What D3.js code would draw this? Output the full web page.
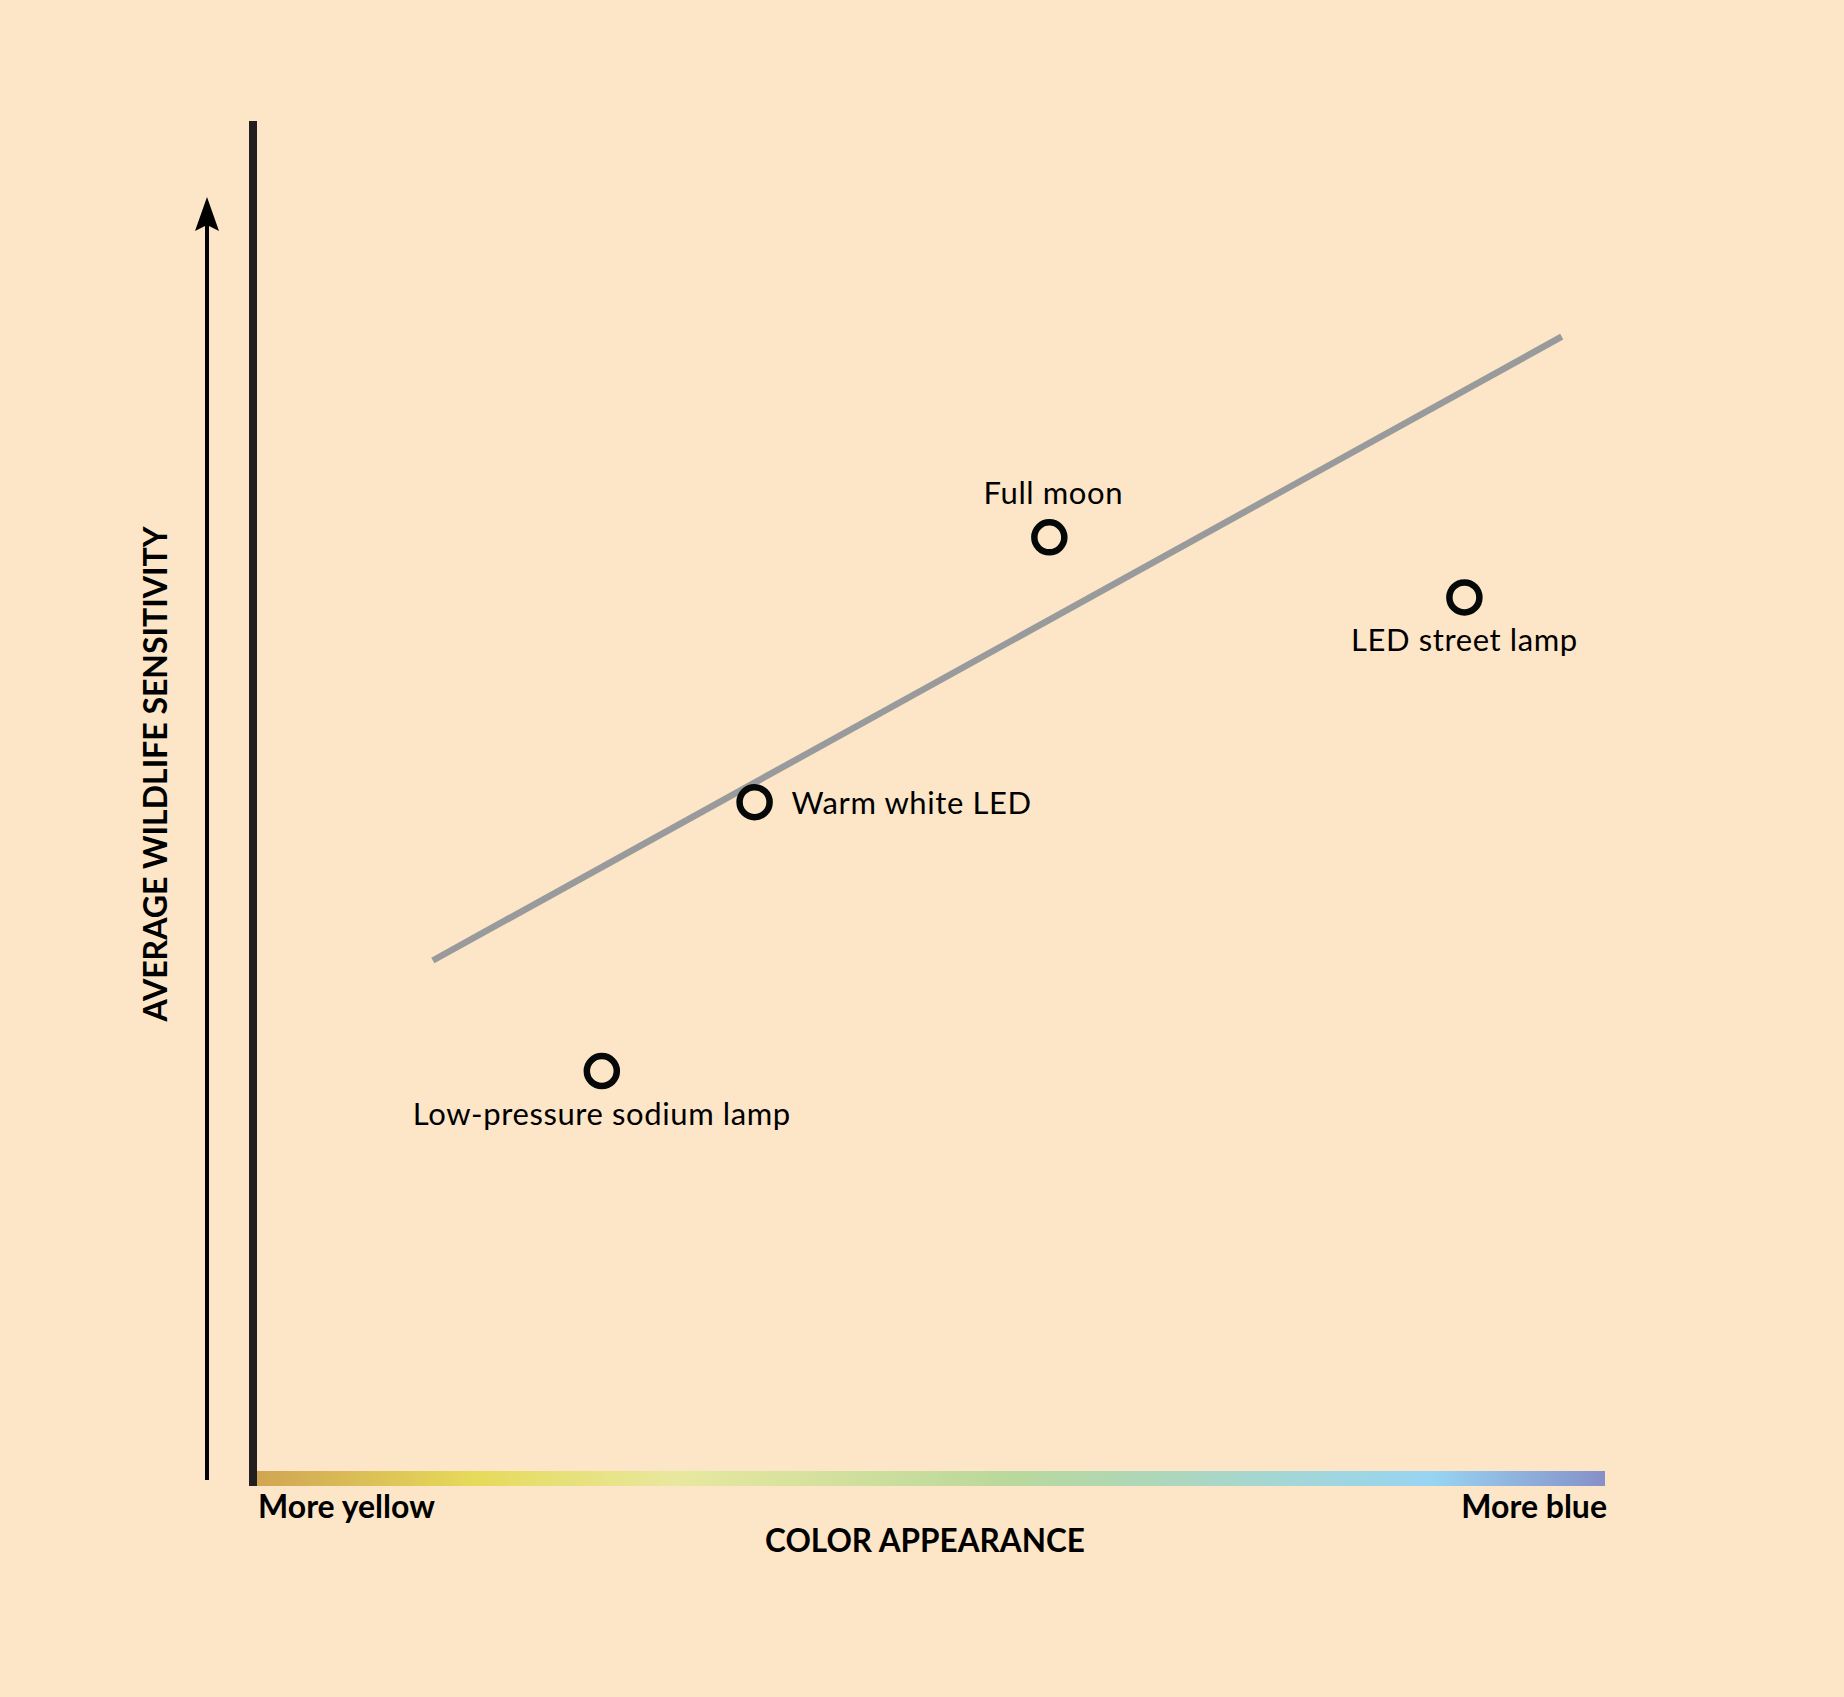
<!DOCTYPE html>
<html>
<head>
<script src="https://cdn.jsdelivr.net/npm/d3@7"></script>
<style>
    body{ margin:0; background:#fde6c7; font-family:Lato, "Open Sans", sans-serif; }
</style>
</head>
<body>
<div id="chart"></div>
<script>
    // points in chart units (0-100 on both axes)
    var names = ["Low-pressure sodium lamp","Warm white LED","Full moon","LED street lamp"]
    var xValues = [25.8, 37.1, 58.9, 89.6]
    var yValues = [30.4, 50.1, 69.5, 65.1]
    var labelPos = ["below","right","above","below"]
    // trend line ends
    var trendX = [13.3, 96.8]
    var trendY = [38.5, 84.2]
    // gradient along the x axis
    var gradOffsets = [0, 0.16, 0.31, 0.56, 0.87, 1]
    var gradColors = ["#d0a553","#e6da5a","#e8e89e","#b9d89c","#98d5f3","#8690c8"]
    var xEnds = ["More yellow","More blue"]

    var width = 1844, height = 1697
    var xScale = d3.scaleLinear().domain([0,100]).range([253,1605])
    var yScale = d3.scaleLinear().domain([0,100]).range([1486,121])

    var svg = d3.select("#chart").append("svg")
        .attr("width",width).attr("height",height)

    svg.append("rect").attr("width",width).attr("height",height).attr("fill","#fde6c7")

    var defs = svg.append("defs")
    var grad = defs.append("linearGradient").attr("id","xgrad")
    gradOffsets.forEach(function(o,i){
        grad.append("stop").attr("offset",o).attr("stop-color",gradColors[i])
    })

    // gradient bar
    svg.append("rect")
        .attr("x",xScale(0)+4).attr("y",1471)
        .attr("width",xScale(100)-xScale(0)-4).attr("height",15)
        .attr("fill","url(#xgrad)")

    // thick y axis
    svg.append("line")
        .attr("x1",xScale(0)).attr("x2",xScale(0))
        .attr("y1",yScale(100)).attr("y2",yScale(0))
        .attr("stroke","#231f20").attr("stroke-width",8)

    // arrow
    var ax = 207, tipY = 197
    svg.append("line")
        .attr("x1",ax).attr("x2",ax)
        .attr("y1",1480).attr("y2",tipY+25)
        .attr("stroke","#000").attr("stroke-width",4)
    svg.append("path")
        .attr("d",d3.line()([[ax,tipY],[ax+12,tipY+34],[ax,tipY+28],[ax-12,tipY+34]])+"Z")
        .attr("fill","#000")

    svg.append("text").text("AVERAGE WILDLIFE SENSITIVITY")
        .attr("transform","translate(167,774) rotate(-90)")
        .attr("text-anchor","middle").attr("font-weight","bold")
        .attr("font-size",32).attr("fill","#000")

    svg.append("text").text(xEnds[0]).attr("x",258).attr("y",1518)
        .attr("font-weight","bold").attr("font-size",32)
    svg.append("text").text(xEnds[1]).attr("x",1607).attr("y",1518)
        .attr("text-anchor","end").attr("font-weight","bold").attr("font-size",32)
    svg.append("text").text("COLOR APPEARANCE").attr("x",925).attr("y",1552)
        .attr("text-anchor","middle").attr("font-weight","bold").attr("font-size",31.5)

    // trend line
    svg.append("line")
        .attr("x1",xScale(trendX[0])).attr("y1",yScale(trendY[0]))
        .attr("x2",xScale(trendX[1])).attr("y2",yScale(trendY[1]))
        .attr("stroke","#999a9c").attr("stroke-width",6.5)

    for(var i in names){
        var cx = xScale(xValues[i]), cy = yScale(yValues[i])
        svg.append("circle").attr("cx",cx).attr("cy",cy).attr("r",15)
            .attr("fill","none").attr("stroke","#050808").attr("stroke-width",6.5)
        var t = svg.append("text").text(names[i]).attr("font-size",31)
            .attr("letter-spacing",0.6).attr("fill","#000")
        if(labelPos[i]=="below"){
            t.attr("x",cx).attr("y",cy+54).attr("text-anchor","middle")
        } else if(labelPos[i]=="above"){
            t.attr("x",cx+4).attr("y",cy-33).attr("text-anchor","middle")
        } else {
            t.attr("x",cx+37).attr("y",cy+12).attr("text-anchor","start")
        }
    }
</script>
</body>
</html>
